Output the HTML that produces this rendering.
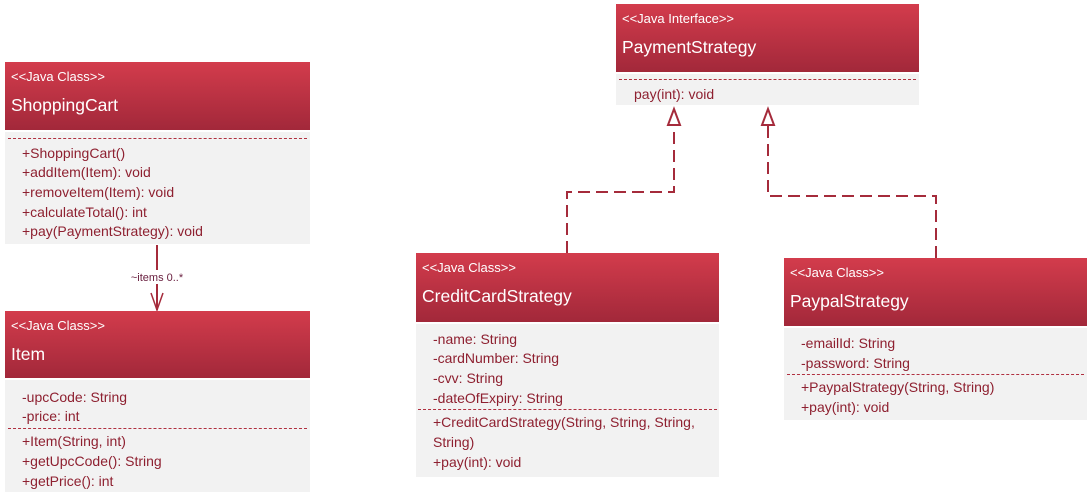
<!DOCTYPE html>
<html><head><meta charset="utf-8"><style>
body{margin:0;width:1091px;height:499px;background:#fff;position:relative;overflow:hidden;font-family:"Liberation Sans",sans-serif}
.h{position:absolute;background:linear-gradient(#d33c4c,#a2283a);color:#fff}
.h .s{position:absolute;left:6px;top:7px;font-size:13px}
.h .n{position:absolute;left:6px;top:33px;font-size:17.5px}
.b{position:absolute;background:#f2f2f2}
.t{position:absolute;font-size:14px;color:#8e2030;line-height:20px;white-space:nowrap}
.d{position:absolute;border-top:1.5px dashed #b03040;height:0}
svg{position:absolute;left:0;top:0}
</style></head><body>
<svg width="1091" height="499">
<g stroke="#a52b3b" stroke-width="2" fill="none" stroke-dasharray="12,6">
<polyline points="567,253 567,192 674,192 674,126"/>
<polyline points="936,258 936,196 768,196 768,126"/>
</g>
<g stroke="#a52b3b" stroke-width="2" fill="#fff">
<polygon points="674,109 668,125 680,125"/>
<polygon points="768,109 762,125 774,125"/>
</g>
<line x1="157" y1="245" x2="157" y2="310" stroke="#a52b3b" stroke-width="2"/>
<polyline points="151,293 157,310 163,293" stroke="#a52b3b" stroke-width="1.5" fill="none"/>
<rect x="124" y="270" width="66" height="14" fill="#fff"/>
<text x="157" y="281" font-size="11" text-anchor="middle" fill="#6a2040" font-family="Liberation Sans">~items 0..*</text>
</svg>

<!-- ShoppingCart -->
<div class="h" style="left:5px;top:62px;width:305px;height:68px"><div class="s">&lt;&lt;Java Class&gt;&gt;</div><div class="n">ShoppingCart</div></div>
<div class="b" style="left:5px;top:132px;width:305px;height:112px"></div>
<div class="d" style="left:8px;top:138px;width:299px"></div>
<div class="t" style="left:22px;top:143px">+ShoppingCart()</div>
<div class="t" style="left:22px;top:162px">+addItem(Item): void</div>
<div class="t" style="left:22px;top:182px">+removeItem(Item): void</div>
<div class="t" style="left:22px;top:202px">+calculateTotal(): int</div>
<div class="t" style="left:22px;top:221px">+pay(PaymentStrategy): void</div>

<!-- Item -->
<div class="h" style="left:5px;top:311px;width:305px;height:67px"><div class="s">&lt;&lt;Java Class&gt;&gt;</div><div class="n">Item</div></div>
<div class="b" style="left:5px;top:380px;width:305px;height:112px"></div>
<div class="t" style="left:22px;top:387px">-upcCode: String</div>
<div class="t" style="left:22px;top:406px">-price: int</div>
<div class="d" style="left:8px;top:428px;width:299px"></div>
<div class="t" style="left:22px;top:431px">+Item(String, int)</div>
<div class="t" style="left:22px;top:451px">+getUpcCode(): String</div>
<div class="t" style="left:22px;top:471px">+getPrice(): int</div>

<!-- PaymentStrategy -->
<div class="h" style="left:616px;top:4px;width:303px;height:68px"><div class="s">&lt;&lt;Java Interface&gt;&gt;</div><div class="n">PaymentStrategy</div></div>
<div class="b" style="left:616px;top:74px;width:303px;height:31px"></div>
<div class="d" style="left:619px;top:79px;width:297px"></div>
<div class="t" style="left:634px;top:84px">pay(int): void</div>

<!-- CreditCardStrategy -->
<div class="h" style="left:416px;top:253px;width:303px;height:69px"><div class="s">&lt;&lt;Java Class&gt;&gt;</div><div class="n">CreditCardStrategy</div></div>
<div class="b" style="left:416px;top:324px;width:303px;height:153px"></div>
<div class="t" style="left:433px;top:329px">-name: String</div>
<div class="t" style="left:433px;top:348px">-cardNumber: String</div>
<div class="t" style="left:433px;top:368px">-cvv: String</div>
<div class="t" style="left:433px;top:388px">-dateOfExpiry: String</div>
<div class="d" style="left:418px;top:409px;width:299px"></div>
<div class="t" style="left:433px;top:412px">+CreditCardStrategy(String, String, String,</div>
<div class="t" style="left:433px;top:432px">String)</div>
<div class="t" style="left:433px;top:452px">+pay(int): void</div>

<!-- PaypalStrategy -->
<div class="h" style="left:784px;top:258px;width:303px;height:68px"><div class="s">&lt;&lt;Java Class&gt;&gt;</div><div class="n">PaypalStrategy</div></div>
<div class="b" style="left:784px;top:328px;width:303px;height:92px"></div>
<div class="t" style="left:801px;top:333px">-emailId: String</div>
<div class="t" style="left:801px;top:353px">-password: String</div>
<div class="d" style="left:787px;top:374px;width:297px"></div>
<div class="t" style="left:801px;top:377px">+PaypalStrategy(String, String)</div>
<div class="t" style="left:801px;top:397px">+pay(int): void</div>
</body></html>
